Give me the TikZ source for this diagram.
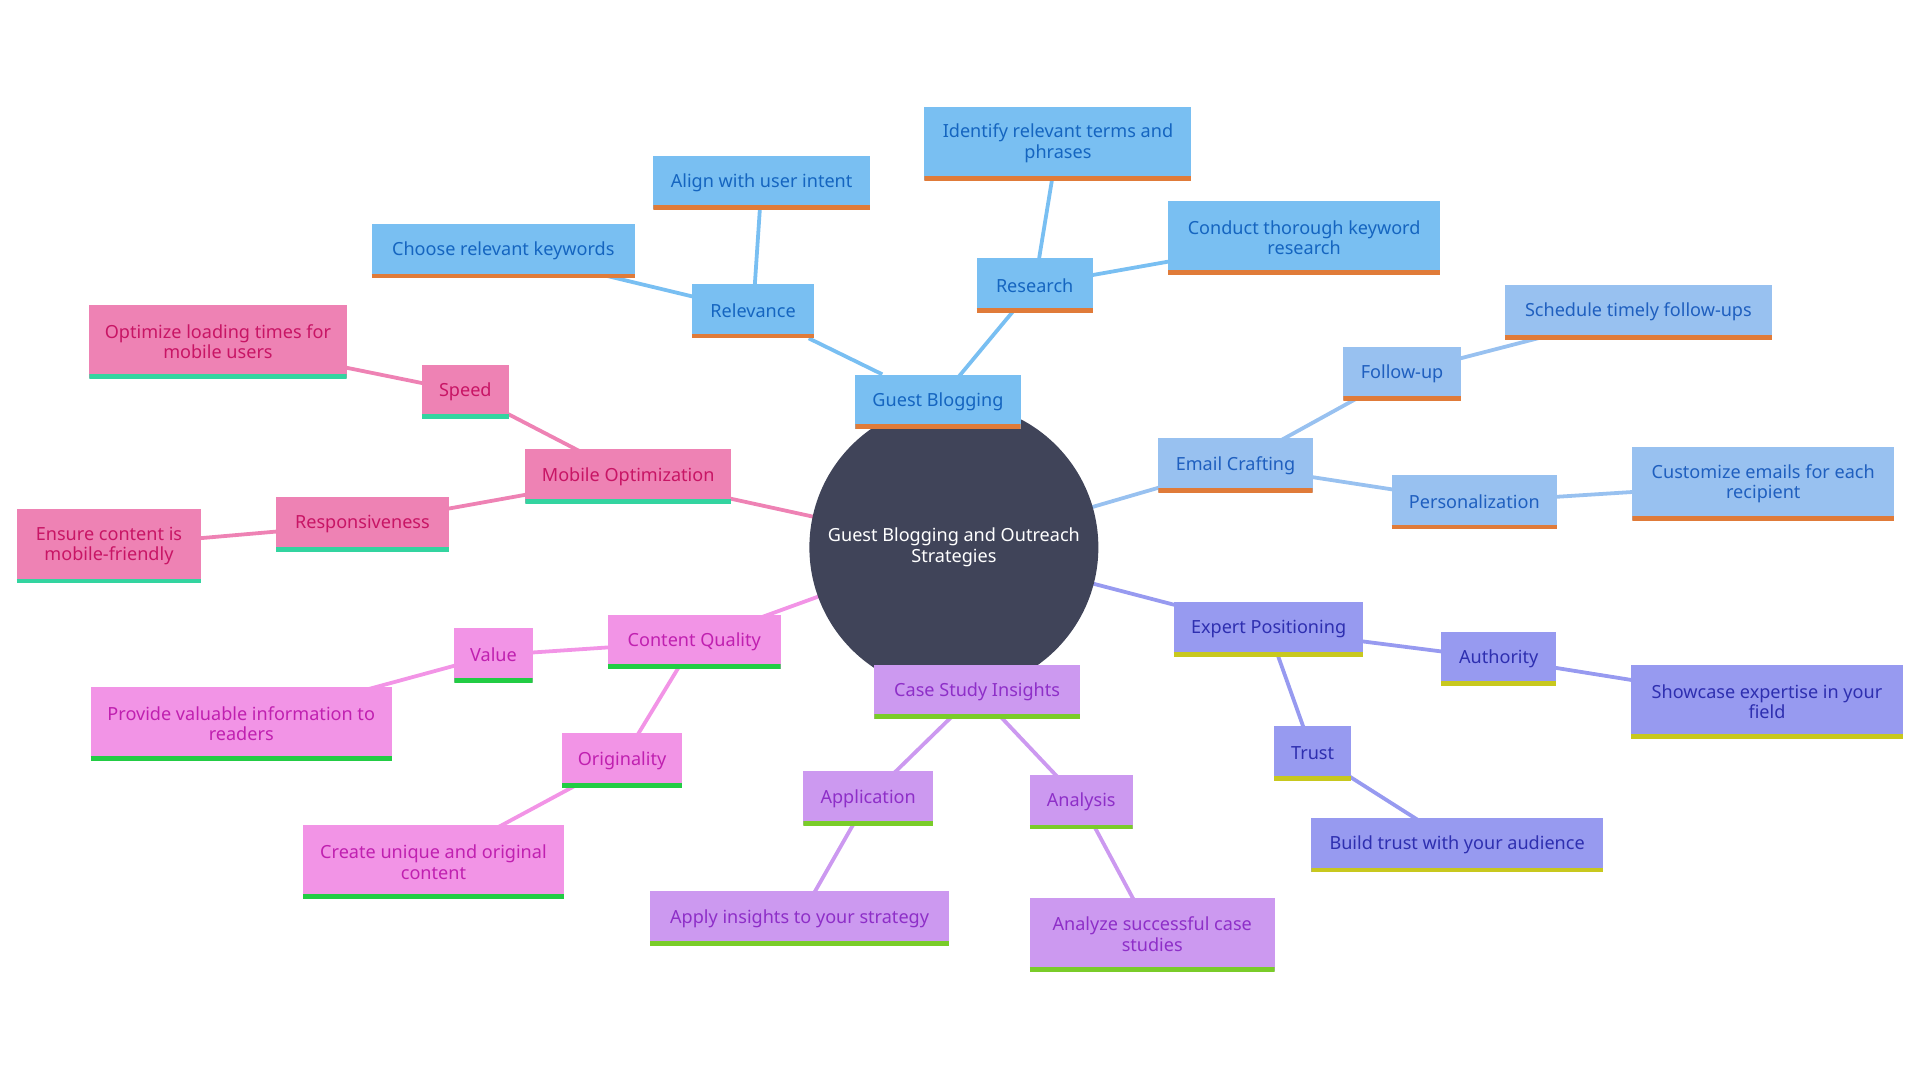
\documentclass[tikz,border=0pt]{standalone}
\usepackage{fontspec}
\setmainfont{Noto Sans}
\usetikzlibrary{backgrounds}
\definecolor{blueA}{HTML}{79BFF2}\definecolor{blueAt}{HTML}{1565C0}\definecolor{blueAb}{HTML}{E07B39}
\definecolor{blueB}{HTML}{98C1F0}\definecolor{blueBt}{HTML}{1F5FBF}
\definecolor{purA}{HTML}{979AF0}\definecolor{purAt}{HTML}{2E2FB0}\definecolor{purAb}{HTML}{C8C81E}
\definecolor{vioA}{HTML}{CC99F0}\definecolor{vioAt}{HTML}{8E2FC8}\definecolor{vioAb}{HTML}{7ACC29}
\definecolor{pinA}{HTML}{F294E6}\definecolor{pinAt}{HTML}{C020B0}\definecolor{pinAb}{HTML}{22CC44}
\definecolor{redA}{HTML}{EE82B4}\definecolor{redAt}{HTML}{C81565}\definecolor{redAb}{HTML}{33D4A0}
\definecolor{hub}{HTML}{404459}
\tikzset{
  box/.style n args={3}{rectangle,fill=#1,text=#2,align=center,inner sep=0pt,
    minimum height=44*0.025cm,font=\fontsize{10.5}{12}\selectfont,
    path picture={\draw[line width=5pt,#3] (path picture bounding box.south west) -- (path picture bounding box.south east);}},
  bl/.style={box={blueA}{blueAt}{blueAb}},
  bb/.style={box={blueB}{blueBt}{blueAb}},
  pa/.style={box={purA}{purAt}{purAb}},
  va/.style={box={vioA}{vioAt}{vioAb}},
  pk/.style={box={pinA}{pinAt}{pinAb}},
  rd/.style={box={redA}{redAt}{redAb}},
  link/.style={line width=2.2pt}
}
\newcommand{\mnode}[5]{\node[#4,minimum width=#3*0.025cm] (#1) at (#2) {#5};}
\begin{document}
\begin{tikzpicture}[x=0.025cm,y=-0.025cm]
\useasboundingbox (0,0) rectangle (1568,882);
\node[circle,fill=hub,minimum size=236*0.025cm,text=white,align=center,font=\fontsize{10.5}{12}\selectfont] (hub) at (779,447) {Guest Blogging and Outreach\\Strategies};
% blue branch
\mnode{gb}{766,328}{135}{bl}{Guest Blogging}
\mnode{rel}{615,254}{100}{bl}{Relevance}
\mnode{kw}{411,205}{215}{bl}{Choose relevant keywords}
\mnode{ui}{622,149}{177}{bl}{Align with user intent}
\mnode{res}{845,233}{95}{bl}{Research}
\mnode{ter}{864,117}{218}{bl,minimum height=60*0.025cm}{Identify relevant terms and\\phrases}
\mnode{kwr}{1065,194}{222}{bl,minimum height=60*0.025cm}{Conduct thorough keyword\\research}
% email branch
\mnode{em}{1009,380}{126}{bb}{Email Crafting}
\mnode{fol}{1145,305}{96}{bb}{Follow-up}
\mnode{sch}{1338,255}{218}{bb}{Schedule timely follow-ups}
\mnode{per}{1204,410}{135}{bb}{Personalization}
\mnode{cus}{1440,395}{214}{bb,minimum height=60*0.025cm}{Customize emails for each\\recipient}
% expert branch
\mnode{exp}{1036,514}{155}{pa}{Expert Positioning}
\mnode{aut}{1224,538}{94}{pa}{Authority}
\mnode{sho}{1443,573}{222}{pa,minimum height=60*0.025cm}{Showcase expertise in your\\field}
\mnode{tru}{1072,615}{63}{pa}{Trust}
\mnode{bui}{1190,690}{238}{pa}{Build trust with your audience}
% case study branch
\mnode{cs}{798,565}{168}{va}{Case Study Insights}
\mnode{app}{709,652}{106}{va}{Application}
\mnode{api}{653,750}{244}{va}{Apply insights to your strategy}
\mnode{ana}{883,655}{84}{va}{Analysis}
\mnode{asc}{941,763}{200}{va,minimum height=60*0.025cm}{Analyze successful case\\studies}
% content branch
\mnode{cq}{567,524}{141}{pk}{Content Quality}
\mnode{val}{403,535}{64}{pk}{Value}
\mnode{pvi}{197,591}{246}{pk,minimum height=60*0.025cm}{Provide valuable information to\\readers}
\mnode{ori}{508,621}{98}{pk}{Originality}
\mnode{cuo}{354,704}{213}{pk,minimum height=60*0.025cm}{Create unique and original\\content}
% mobile branch
\mnode{mo}{513,389}{168}{rd}{Mobile Optimization}
\mnode{spd}{380,320}{71}{rd}{Speed}
\mnode{olt}{178,279}{210}{rd,minimum height=60*0.025cm}{Optimize loading times for\\mobile users}
\mnode{rsp}{296,428}{141}{rd}{Responsiveness}
\mnode{ecm}{89,446}{151}{rd,minimum height=60*0.025cm}{Ensure content is\\mobile-friendly}
\begin{scope}[on background layer]
\draw[link,blueA] (hub) -- (gb) (gb) -- (rel) (rel.center) -- (kw.center) (rel.center) -- (ui.center)
  (gb.center) -- (res.center) (res.center) -- (ter.center) (res.center) -- (kwr.center);
\draw[link,blueB] (hub.center) -- (em.center) (em.center) -- (fol.center) (fol.center) -- (sch.center)
  (em.center) -- (per.center) (per.center) -- (cus.center);
\draw[link,purA] (hub.center) -- (exp.center) (exp.center) -- (aut.center) (aut.center) -- (sho.center)
  (exp.center) -- (tru.center) (tru.center) -- (bui.center);
\draw[link,vioA] (hub.center) -- (cs.center) (cs.center) -- (app.center) (app.center) -- (api.center)
  (cs.center) -- (ana.center) (ana.center) -- (asc.center);
\draw[link,pinA] (hub.center) -- (cq.center) (cq.center) -- (val.center) (val.center) -- (pvi.center)
  (cq.center) -- (ori.center) (ori.center) -- (cuo.center);
\draw[link,redA] (hub.center) -- (mo.center) (mo.center) -- (spd.center) (spd.center) -- (olt.center)
  (mo.center) -- (rsp.center) (rsp.center) -- (ecm.center);
\end{scope}
\end{tikzpicture}
\end{document}
